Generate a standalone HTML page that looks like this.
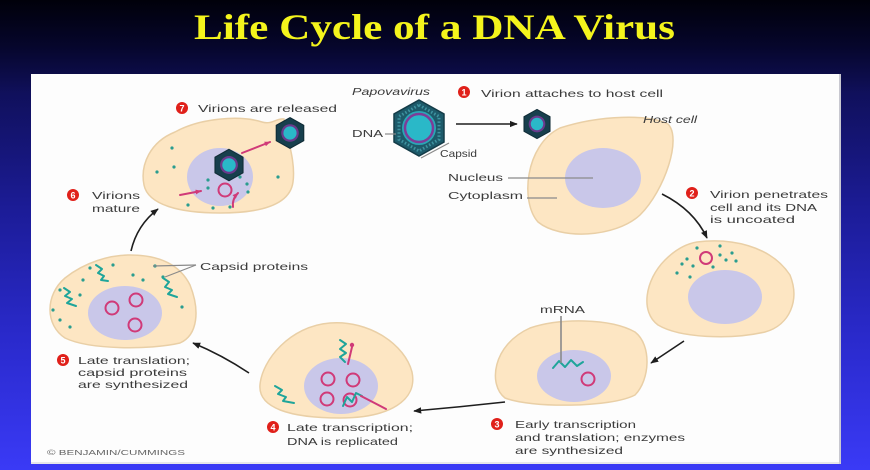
<!DOCTYPE html>
<html><head><meta charset="utf-8"><style>
html,body{margin:0;padding:0;width:870px;height:470px;overflow:hidden;background:#000}
svg{display:block}
</style></head><body>
<svg width="870" height="470" viewBox="0 0 870 470" xmlns="http://www.w3.org/2000/svg" font-family="'Liberation Sans', Arial, sans-serif">
<defs>
<linearGradient id="bg" x1="0" y1="0" x2="0" y2="1">
<stop offset="0" stop-color="#00000a"/>
<stop offset="0.1" stop-color="#06062c"/>
<stop offset="0.2" stop-color="#10105c"/>
<stop offset="0.45" stop-color="#1c1c98"/>
<stop offset="0.72" stop-color="#2a2acc"/>
<stop offset="1" stop-color="#3a3af6"/>
</linearGradient>
<marker id="ah" viewBox="0 0 10 10" refX="9" refY="5" markerWidth="8" markerHeight="8" orient="auto" markerUnits="userSpaceOnUse"><path d="M0,1 L10,5 L0,9 z" fill="#1e1e1e"/></marker>
<marker id="ahp" viewBox="0 0 10 10" refX="9" refY="5" markerWidth="6" markerHeight="6" orient="auto" markerUnits="userSpaceOnUse"><path d="M0,1 L10,5 L0,9 z" fill="#d03a78"/></marker>
<g id="vir">
<polygon points="0,-28 25,-14 25,14 0,28 -25,14 -25,-14" fill="#1d5a6a" stroke="#143c48" stroke-width="1.5"/>
<polygon points="0,-23 20,-11.5 20,11.5 0,23 -20,11.5 -20,-11.5" fill="none" stroke="#3f93a0" stroke-width="3" stroke-dasharray="1.5 2"/>
<circle r="17" fill="#2aa6b6"/>
<circle r="14" fill="#2ab8c8" stroke="#7d3c98" stroke-width="2.5"/>
</g>
<g id="virs">
<polygon points="0,-28 25,-14 25,14 0,28 -25,14 -25,-14" fill="#173f4d" stroke="#102c36" stroke-width="2"/>
<circle r="16" fill="#6a3a8c"/>
<circle r="12" fill="#2ab8c8"/>
</g>
</defs>

<rect x="0" y="0" width="870" height="470" fill="url(#bg)"/>
<!-- panel -->
<rect x="31" y="74" width="810" height="390" fill="#fdfdfd"/>
<line x1="840" y1="74" x2="840" y2="464" stroke="#c8c8d0" stroke-width="2"/>
<line x1="31" y1="463" x2="841" y2="463" stroke="#d0d0d8" stroke-width="1"/>

<!-- title -->
<text x="194" y="39" textLength="481" lengthAdjust="spacingAndGlyphs" font-family="'Liberation Serif', 'Times New Roman', serif" font-weight="bold" font-size="36" fill="#f4f41c">Life Cycle of a DNA Virus</text>

<!-- cells -->
<g fill="#fde6c3" stroke="#e9cfa6" stroke-width="1.5">
<path d="M560,128 C600,115 650,114 668,124 C682,138 665,190 640,215 C615,238 560,240 538,222 C520,202 525,145 560,128 Z"/>
<path d="M697,242 C730,238 770,245 790,275 C800,300 790,325 765,332 C730,340 680,338 658,325 C640,312 645,280 665,260 C675,250 685,244 697,242 Z"/>
<path d="M530,328 C560,318 610,318 635,332 C652,345 650,380 635,395 C610,408 530,408 505,398 C488,385 492,345 530,328 Z"/>
<path d="M330,323 C370,320 405,345 412,372 C418,400 390,418 340,418 C290,418 258,408 260,385 C262,360 290,326 330,323 Z"/>
<path d="M130,255 C160,255 180,265 190,285 C200,310 198,335 180,343 C150,350 90,350 65,338 C45,325 45,295 65,278 C85,262 110,255 130,255 Z"/>
<path d="M175,132 C200,118 240,115 262,122 C272,125 276,118 284,119 C286,136 296,160 293,182 C290,205 260,213 220,213 C180,213 148,205 144,185 C140,165 150,142 175,132 Z"/>
</g>
<!-- nuclei -->
<g fill="#c9c7e9">
<ellipse cx="603" cy="178" rx="38" ry="30"/>
<ellipse cx="725" cy="297" rx="37" ry="27"/>
<ellipse cx="574" cy="376" rx="37" ry="26"/>
<ellipse cx="341" cy="386" rx="37" ry="28"/>
<ellipse cx="125" cy="313" rx="37" ry="27"/>
<ellipse cx="220" cy="177" rx="33" ry="29"/>
</g>

<!-- teal dots -->
<g fill="#2a9d8f">
<circle cx="697" cy="248" r="1.6"/><circle cx="720" cy="246" r="1.6"/><circle cx="732" cy="253" r="1.6"/><circle cx="687" cy="259" r="1.6"/><circle cx="682" cy="264" r="1.6"/><circle cx="693" cy="266" r="1.6"/><circle cx="677" cy="273" r="1.6"/><circle cx="690" cy="277" r="1.6"/><circle cx="713" cy="267" r="1.6"/><circle cx="726" cy="260" r="1.6"/><circle cx="736" cy="261" r="1.6"/><circle cx="720" cy="255" r="1.6"/>
<circle cx="90" cy="268" r="1.6"/><circle cx="113" cy="265" r="1.6"/><circle cx="133" cy="275" r="1.6"/><circle cx="143" cy="280" r="1.6"/><circle cx="83" cy="280" r="1.6"/><circle cx="60" cy="290" r="1.6"/><circle cx="80" cy="295" r="1.6"/><circle cx="53" cy="310" r="1.6"/><circle cx="60" cy="320" r="1.6"/><circle cx="70" cy="327" r="1.6"/><circle cx="182" cy="307" r="1.6"/><circle cx="155" cy="266" r="1.6"/><circle cx="163" cy="277" r="1.6"/>
<circle cx="172" cy="148" r="1.6"/><circle cx="174" cy="167" r="1.6"/><circle cx="157" cy="172" r="1.6"/><circle cx="278" cy="177" r="1.6"/><circle cx="188" cy="205" r="1.6"/><circle cx="213" cy="208" r="1.6"/><circle cx="230" cy="207" r="1.6"/><circle cx="208" cy="180" r="1.6"/><circle cx="227" cy="178" r="1.6"/><circle cx="240" cy="177" r="1.6"/><circle cx="208" cy="188" r="1.6"/><circle cx="247" cy="184" r="1.6"/><circle cx="248" cy="192" r="1.6"/>
</g>

<!-- pink DNA rings -->
<g fill="none" stroke="#d03a78" stroke-width="2">
<circle cx="706" cy="258" r="6"/>
<circle cx="588" cy="379" r="6.5"/>
<circle cx="328" cy="379" r="6.5"/><circle cx="353" cy="380" r="6.5"/><circle cx="327" cy="399" r="6.5"/><circle cx="350" cy="400" r="6.5"/>
<circle cx="112" cy="308" r="6.5"/><circle cx="136" cy="300" r="6.5"/><circle cx="135" cy="325" r="6.5"/>
<circle cx="225" cy="190" r="6.5"/>
</g>

<!-- teal squiggles -->
<g fill="none" stroke="#1fa59a" stroke-width="2" stroke-linejoin="round" stroke-linecap="round">
<polyline points="96,265 102,269 98,273 104,276 101,280 108,281"/>
<polyline points="64,288 70,292 65,296 72,299 67,303 76,306"/>
<polyline points="163,278 169,282 165,287 172,290 168,294 177,297"/>
<polyline points="340,340 346,344 340,349 346,353 340,357 345,362"/>
<polyline points="275,386 282,390 278,394 286,397 283,401 294,403"/>
<polyline points="343,406 347,397 352,402 356,393 362,396"/>
<polyline points="553,368 559,361 565,367 571,360 577,366 583,362"/>
</g>
<!-- pink strands -->
<g fill="none" stroke="#d03a78" stroke-width="2" stroke-linecap="round">
<line x1="348" y1="364" x2="352" y2="347"/>
<line x1="361" y1="396" x2="386" y2="409"/>
<path d="M180,195 L201,191" marker-end="url(#ahp)"/>
<path d="M233,207 Q232,199 238,193" marker-end="url(#ahp)"/>
<path d="M242,153 L270,142" marker-end="url(#ahp)"/>
</g>
<circle cx="352" cy="345" r="2.2" fill="#d03a78"/>

<!-- virions -->
<use href="#vir" transform="translate(419,128)"/>
<use href="#virs" transform="translate(537,124) scale(0.52)"/>
<use href="#virs" transform="translate(229,165) scale(0.56)"/>
<use href="#virs" transform="translate(290,133) scale(0.55)"/>

<!-- leader lines -->
<g stroke="#8a8a8a" stroke-width="1.2" fill="none">
<line x1="385" y1="134" x2="396" y2="134"/>
<line x1="421" y1="158" x2="449" y2="143"/>
<line x1="508" y1="178" x2="593" y2="178"/>
<line x1="527" y1="198" x2="557" y2="198"/>
<line x1="561" y1="316" x2="561" y2="363" stroke-width="1.6"/>
<line x1="196" y1="265" x2="153" y2="266"/>
<line x1="196" y1="265" x2="165" y2="277"/>
</g>

<!-- black arrows -->
<g stroke="#1e1e1e" stroke-width="1.6" fill="none">
<path d="M456,124 L517,124" marker-end="url(#ah)"/>
<path d="M662,194 Q694,210 707,238" marker-end="url(#ah)"/>
<path d="M684,341 L651,363" marker-end="url(#ah)"/>
<path d="M505,402 Q460,407 414,411" marker-end="url(#ah)"/>
<path d="M249,373 Q222,355 193,343" marker-end="url(#ah)"/>
<path d="M131,251 Q137,225 158,209" marker-end="url(#ah)"/>
</g>

<!-- step number circles -->
<g fill="#e0201a">
<circle cx="464" cy="92" r="6"/>
<circle cx="692" cy="193" r="6"/>
<circle cx="497" cy="424" r="6"/>
<circle cx="273" cy="427" r="6"/>
<circle cx="63" cy="360" r="6"/>
<circle cx="73" cy="195" r="6"/>
<circle cx="182" cy="108" r="6"/>
</g>
<g fill="#ffffff" font-size="9" font-weight="bold" text-anchor="middle">
<text x="464" y="95.5">1</text>
<text x="692" y="196.5">2</text>
<text x="497" y="427.5">3</text>
<text x="273" y="430.5">4</text>
<text x="63" y="363.5">5</text>
<text x="73" y="198.5">6</text>
<text x="182" y="111.5">7</text>
</g>

<!-- labels -->
<g fill="#3b3b3b" font-size="10.5" lengthAdjust="spacingAndGlyphs">
<text x="352" y="95" textLength="78" lengthAdjust="spacingAndGlyphs" font-style="italic">Papovavirus</text>
<text x="481" y="97" textLength="182" lengthAdjust="spacingAndGlyphs">Virion attaches to host cell</text>
<text x="352" y="137" textLength="31" lengthAdjust="spacingAndGlyphs">DNA</text>
<text x="440" y="157" textLength="37" lengthAdjust="spacingAndGlyphs">Capsid</text>
<text x="643" y="123" textLength="54" lengthAdjust="spacingAndGlyphs" font-style="italic">Host cell</text>
<text x="448" y="181" textLength="55" lengthAdjust="spacingAndGlyphs">Nucleus</text>
<text x="448" y="199" textLength="75" lengthAdjust="spacingAndGlyphs">Cytoplasm</text>

<text x="710" y="198" textLength="118" lengthAdjust="spacingAndGlyphs">Virion penetrates</text>
<text x="710" y="211" textLength="107" lengthAdjust="spacingAndGlyphs">cell and its DNA</text>
<text x="710" y="223" textLength="85" lengthAdjust="spacingAndGlyphs">is uncoated</text>

<text x="540" y="313" textLength="45" lengthAdjust="spacingAndGlyphs">mRNA</text>

<text x="515" y="428" textLength="121" lengthAdjust="spacingAndGlyphs">Early transcription</text>
<text x="515" y="441" textLength="170" lengthAdjust="spacingAndGlyphs">and translation; enzymes</text>
<text x="515" y="454" textLength="108" lengthAdjust="spacingAndGlyphs">are synthesized</text>

<text x="287" y="431" textLength="126" lengthAdjust="spacingAndGlyphs">Late transcription;</text>
<text x="287" y="445" textLength="111" lengthAdjust="spacingAndGlyphs">DNA is replicated</text>

<text x="78" y="364" textLength="112" lengthAdjust="spacingAndGlyphs">Late translation;</text>
<text x="78" y="376" textLength="109" lengthAdjust="spacingAndGlyphs">capsid proteins</text>
<text x="78" y="388" textLength="110" lengthAdjust="spacingAndGlyphs">are synthesized</text>

<text x="200" y="270" textLength="108" lengthAdjust="spacingAndGlyphs">Capsid proteins</text>

<text x="92" y="199" textLength="48" lengthAdjust="spacingAndGlyphs">Virions</text>
<text x="92" y="212" textLength="48" lengthAdjust="spacingAndGlyphs">mature</text>

<text x="198" y="112" textLength="139" lengthAdjust="spacingAndGlyphs">Virions are released</text>
</g>
<text x="47" y="455" font-size="7.5" fill="#666" textLength="138" lengthAdjust="spacingAndGlyphs">© BENJAMIN/CUMMINGS</text>
</svg>
</body></html>
